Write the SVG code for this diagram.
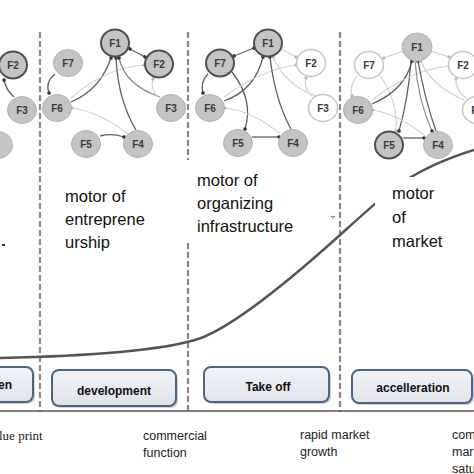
<svg xmlns="http://www.w3.org/2000/svg" width="474" height="474" viewBox="0 0 474 474">
<style>
.dash{stroke:#8a8a8a;stroke-width:2.2;stroke-dasharray:6 3;fill:none}
.g{fill:#c4c4c4;stroke:#b2b2b2;stroke-width:1}
.gd{fill:#c4c4c4;stroke:#505050;stroke-width:2}
.w{fill:#ffffff;stroke:#c6c6c6;stroke-width:1.5}
.lbl{font-family:"Liberation Sans",Arial,sans-serif;font-weight:bold;font-size:10px;fill:#3a3a3a;text-anchor:middle}
.ed{fill:none;stroke:#606060;stroke-width:1.3;marker-end:url(#md)}
.em{fill:none;stroke:#8c8c8c;stroke-width:1.2;marker-end:url(#md)}
.el{fill:none;stroke:#d0d0d0;stroke-width:1.2;marker-end:url(#ml)}
.motor{font-family:"Liberation Sans",Arial,sans-serif;font-size:16.5px;fill:#111}
.box{fill:url(#bg);stroke:#46678a;stroke-width:2}
.shadow{fill:#d2d2d2}
.bt{font-family:"Liberation Sans",Arial,sans-serif;font-weight:bold;font-size:12px;fill:#111;text-anchor:middle}
.foot{font-family:"Liberation Sans",Arial,sans-serif;font-size:12.5px;fill:#222}
</style>
<defs>
<marker id="md" markerUnits="userSpaceOnUse" markerWidth="6" markerHeight="6" refX="3" refY="3" orient="auto"><circle cx="3" cy="3" r="1.8" fill="#333"/></marker>
<marker id="ms" markerUnits="userSpaceOnUse" markerWidth="6" markerHeight="6" refX="3" refY="3" orient="auto"><circle cx="3" cy="3" r="1.8" fill="#333"/></marker>
<marker id="ml" markerUnits="userSpaceOnUse" markerWidth="6" markerHeight="6" refX="3" refY="3" orient="auto"><circle cx="3" cy="3" r="1.6" fill="#b8b8b8"/></marker>
<linearGradient id="bg" x1="0" y1="0" x2="0" y2="1"><stop offset="0" stop-color="#f2f4f6"/><stop offset="1" stop-color="#dfe3e8"/></linearGradient>
</defs>
<rect width="474" height="474" fill="#ffffff"/>

<!-- dashed phase separators -->
<g id="separators">
<line class="dash" x1="40" y1="32" x2="40" y2="412"/>
<line class="dash" x1="188" y1="32" x2="188" y2="160"/>
<line class="dash" x1="188" y1="243" x2="188" y2="412"/>
<line class="dash" x1="340" y1="32" x2="340" y2="412"/>
</g>

<!-- S curve -->
<path id="s-curve" d="M0,358 C90,356 160,350 195,340 C230,330 290,280 340,235 C390,190 410,170 474,150" fill="none" stroke="#555" stroke-width="2.4"/>

<!-- text mask over the curve -->
<rect x="375" y="177" width="72" height="85" fill="#fff"/>

<!-- connectors -->
<g id="connectors">
<!-- graph 1 -->
<path class="ed" d="M14,97 Q6,90 4,80"/>
<!-- graph 2 -->
<path class="ed" d="M130,49 L145,57" marker-start="url(#ms)"/>
<path class="ed" d="M55,74 Q45,82 49,93"/>
<path class="ed" d="M71,102 Q100,90 111,58"/>
<path class="el" d="M71,98 Q105,68 144,65"/>
<path class="ed" d="M136,130 Q118,100 116,58"/>
<path class="em" d="M160,97 Q125,85 119,58"/>
<path class="el" d="M128,134 Q100,112 72,108"/>
<path class="ed" d="M100,136 Q112,133 124,137"/>
<path class="el" d="M157,96 Q150,87 153,79"/>
<!-- graph 3 -->
<path class="ed" d="M234,56 L254,48" marker-start="url(#ms)"/>
<path class="el" d="M282,49 L296,57"/>
<path class="ed" d="M208,74 Q200,82 203,93"/>
<path class="ed" d="M232,72 Q254,100 245,129"/>
<path class="ed" d="M224,101 Q255,90 263,57"/>
<path class="el" d="M224,97 Q260,70 296,65"/>
<path class="ed" d="M291,129 Q275,100 270,57"/>
<path class="el" d="M316,96 Q285,85 273,57"/>
<path class="el" d="M312,96 Q303,88 306,78"/>
<path class="el" d="M280,134 Q255,112 225,108"/>
<path class="ed" d="M252,137 L279,137"/>
<!-- graph 4 -->
<path class="el" d="M403,51 L384,58"/>
<path class="el" d="M431,51 L449,57"/>
<path class="el" d="M357,76 Q349,86 352,96"/>
<path class="el" d="M380,76 Q398,100 396,131"/>
<path class="ed" d="M411,61 Q408,100 399,131"/>
<path class="ed" d="M372,104 Q405,90 412,61"/>
<path class="el" d="M372,100 Q410,70 449,66"/>
<path class="ed" d="M436,131 Q425,100 418,61"/>
<path class="em" d="M415,61 Q418,100 432,131"/>
<path class="el" d="M425,136 Q400,115 373,110"/>
<path class="ed" d="M403,138 L424,138"/>
<path class="el" d="M466,98 Q455,90 456,79"/>
<path class="el" d="M464,100 Q430,85 421,61"/>
</g>

<!-- graph 1 (cut off) -->
<g id="g1-F2"><ellipse class="gd" cx="13" cy="65" rx="14" ry="13.5"/><text class="lbl" x="13" y="69">F2</text></g>
<g id="g1-F3"><ellipse class="g" cx="22" cy="110" rx="14.5" ry="13.5"/><text class="lbl" x="22" y="114">F3</text></g>
<g id="g1-F4"><ellipse class="g" cx="-2" cy="145" rx="14.5" ry="13.5"/></g>

<!-- graph 2 -->
<g id="g2-F1"><ellipse class="gd" cx="115" cy="43" rx="14" ry="13.5"/><text class="lbl" x="115" y="47">F1</text></g>
<g id="g2-F2"><ellipse class="gd" cx="159" cy="64" rx="14" ry="13.5"/><text class="lbl" x="159" y="68">F2</text></g>
<g id="g2-F7"><ellipse class="g" cx="68" cy="63" rx="14.5" ry="13.5"/><text class="lbl" x="68" y="67">F7</text></g>
<g id="g2-F6"><ellipse class="g" cx="57" cy="108" rx="14.5" ry="13.5"/><text class="lbl" x="57" y="112">F6</text></g>
<g id="g2-F3"><ellipse class="g" cx="171" cy="108" rx="14.5" ry="13.5"/><text class="lbl" x="171" y="112">F3</text></g>
<g id="g2-F5"><ellipse class="g" cx="86" cy="144" rx="14.5" ry="13.5"/><text class="lbl" x="86" y="148">F5</text></g>
<g id="g2-F4"><ellipse class="g" cx="138" cy="144" rx="14.5" ry="13.5"/><text class="lbl" x="138" y="148">F4</text></g>

<!-- graph 3 -->
<g id="g3-F1"><ellipse class="gd" cx="268" cy="43" rx="14" ry="13.5"/><text class="lbl" x="268" y="47">F1</text></g>
<g id="g3-F7"><ellipse class="gd" cx="220" cy="63" rx="14" ry="13.5"/><text class="lbl" x="220" y="67">F7</text></g>
<g id="g3-F2"><ellipse class="w" cx="311" cy="63" rx="14.5" ry="13.5"/><text class="lbl" x="311" y="67">F2</text></g>
<g id="g3-F6"><ellipse class="g" cx="210" cy="108" rx="14.5" ry="13.5"/><text class="lbl" x="210" y="112">F6</text></g>
<g id="g3-F3"><ellipse class="w" cx="323" cy="108" rx="14.5" ry="13.5"/><text class="lbl" x="323" y="112">F3</text></g>
<g id="g3-F5"><ellipse class="g" cx="238" cy="143" rx="14.5" ry="13.5"/><text class="lbl" x="238" y="147">F5</text></g>
<g id="g3-F4"><ellipse class="g" cx="293" cy="143" rx="14.5" ry="13.5"/><text class="lbl" x="293" y="147">F4</text></g>

<!-- graph 4 -->
<g id="g4-F1"><ellipse class="g" cx="417" cy="47" rx="15" ry="14"/><text class="lbl" x="417" y="51">F1</text></g>
<g id="g4-F7"><ellipse class="w" cx="369" cy="65" rx="14.5" ry="13.5"/><text class="lbl" x="369" y="69">F7</text></g>
<g id="g4-F2"><ellipse class="w" cx="463" cy="65" rx="14.5" ry="13.5"/><text class="lbl" x="463" y="69">F2</text></g>
<g id="g4-F6"><ellipse class="g" cx="358" cy="110" rx="14.5" ry="13.5"/><text class="lbl" x="358" y="114">F6</text></g>
<g id="g4-F3"><ellipse class="w" cx="477" cy="110" rx="14.5" ry="13.5"/><text class="lbl" x="477" y="114">F3</text></g>
<g id="g4-F5"><ellipse class="gd" cx="389" cy="145" rx="14" ry="13.5"/><text class="lbl" x="389" y="149">F5</text></g>
<g id="g4-F4"><ellipse class="g" cx="438" cy="145" rx="14.5" ry="13.5"/><text class="lbl" x="438" y="149">F4</text></g>

<!-- motor labels -->
<g id="motor-entrepreneurship">
<text class="motor" x="65" y="202">motor of</text>
<text class="motor" x="65" y="225">entreprene</text>
<text class="motor" x="65" y="248">urship</text>
</g>
<g id="motor-infrastructure">
<text class="motor" x="197" y="186">motor of</text>
<text class="motor" x="197" y="209">organizing</text>
<text class="motor" x="197" y="232">infrastructure</text>
</g>
<g id="motor-market">
<text class="motor" x="392" y="199">motor</text>
<text class="motor" x="392" y="223">of</text>
<text class="motor" x="392" y="247">market</text>
</g>

<!-- small marks -->
<rect x="2" y="244" width="3" height="2" fill="#333"/>
<path d="M331,216 Q333,219 335,216" fill="none" stroke="#444" stroke-width="1"/>

<!-- base line -->
<line x1="0" y1="411" x2="474" y2="411" stroke="#555" stroke-width="1.6"/>

<!-- phase boxes -->
<g id="box-en">
<rect class="shadow" x="-18" y="369" width="53" height="35" rx="7"/>
<rect class="box" x="-20" y="367" width="53" height="35" rx="7"/>
<text class="bt" x="5" y="389">en</text>
</g>
<g id="box-development">
<rect class="shadow" x="54" y="372" width="124" height="36" rx="7"/>
<rect class="box" x="52" y="370" width="124" height="36" rx="7"/>
<text class="bt" x="114" y="395">development</text>
</g>
<g id="box-takeoff">
<rect class="shadow" x="206" y="369" width="125" height="35" rx="7"/>
<rect class="box" x="204" y="367" width="125" height="35" rx="7"/>
<text class="bt" x="268" y="391">Take off</text>
</g>
<g id="box-accelleration">
<rect class="shadow" x="354" y="372" width="120" height="33" rx="7"/>
<rect class="box" x="352" y="370" width="120" height="33" rx="7"/>
<text class="bt" x="413" y="392">accelleration</text>
</g>

<!-- footer labels -->
<text x="-1" y="440" font-family="Liberation Serif,'Times New Roman',serif" font-size="13" fill="#222">lue print</text>
<text class="foot" x="143" y="440">commercial</text>
<text class="foot" x="143" y="457">function</text>
<text class="foot" x="300" y="439">rapid market</text>
<text class="foot" x="300" y="456">growth</text>
<text class="foot" x="452" y="439">com</text>
<text class="foot" x="452" y="456">mar</text>
<text class="foot" x="452" y="473">satu</text>
</svg>
